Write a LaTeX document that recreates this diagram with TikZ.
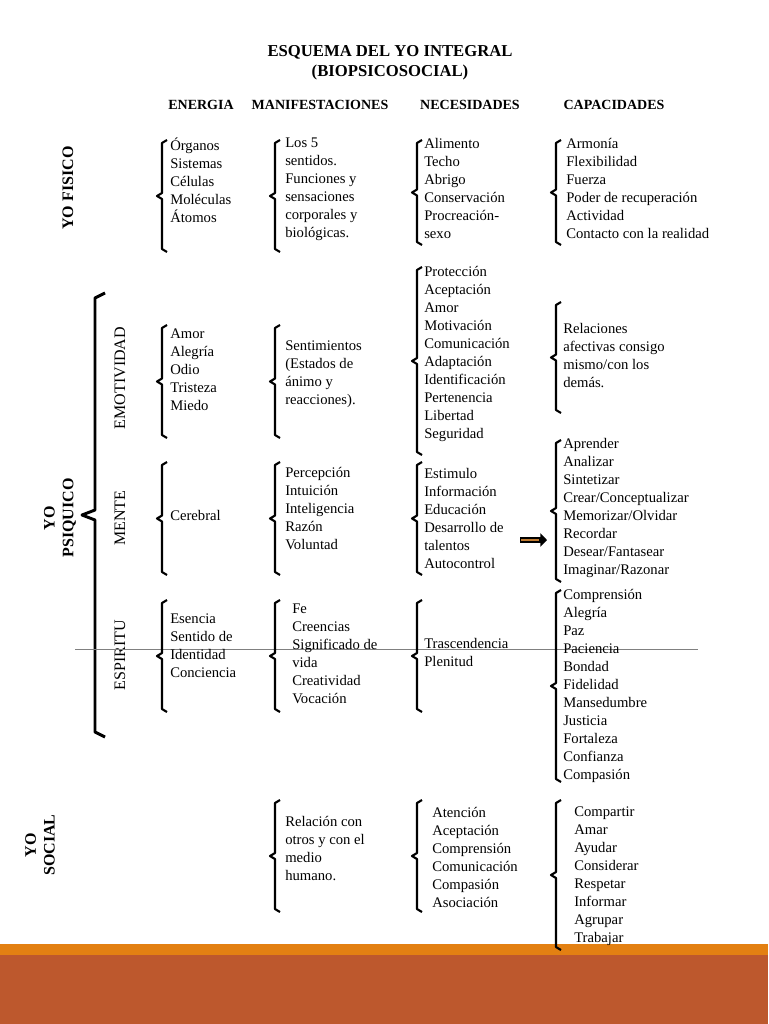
\documentclass[tikz,border=0pt]{standalone}
\usepackage{fontspec}
\setmainfont{Liberation Serif}
\usetikzlibrary{arrows.meta}
\definecolor{rust}{HTML}{BD582D}
\definecolor{orng}{HTML}{E38012}
\definecolor{brn}{HTML}{C07A30}
\tikzset{
  lst/.style={anchor=north west,inner sep=0pt,align=left,font=\fontsize{11}{13.5}\selectfont},
  hdr/.style={font=\bfseries\fontsize{10.5}{12}\selectfont,inner sep=0pt},
  side/.style={rotate=90,inner sep=0pt,font=\fontsize{12}{14}\selectfont},
  brkline/.style={line width=1.6pt,line join=round}
}
\newcommand\brk[3]{\draw[brkline] (#1+5,#2) -- (#1,#2+3) -- (#1,{(#2+#3)/2-3}) -- (#1-5,{(#2+#3)/2}) -- (#1,{(#2+#3)/2+3}) -- (#1,#3-3) -- (#1+5,#3);}
\begin{document}
\begin{tikzpicture}[x=0.75pt,y=-0.75pt]
\useasboundingbox (0,0) rectangle (768,1024);
\fill[white] (0,0) rectangle (768,1024);
\fill[orng] (0,944) rectangle (768,955);
\fill[rust] (0,955) rectangle (768,1024);
% title
\node[font=\bfseries\fontsize{12.5}{15}\selectfont,align=center] (title) at (390,63) {ESQUEMA DEL YO INTEGRAL\\(BIOPSICOSOCIAL)};
\node[hdr] (h1) at (201,105) {ENERGIA};
\node[hdr] (h2) at (320,105) {MANIFESTACIONES};
\node[hdr] (h3) at (470,105) {NECESIDADES};
\node[hdr] (h4) at (614,105) {CAPACIDADES};
% side labels
\node[side,font=\bfseries\fontsize{12}{14}\selectfont] (yf) at (68,188) {YO FISICO};
\node[side] (emo) at (120,378) {EMOTIVIDAD};
\node[side] (men) at (120,518) {MENTE};
\node[side] (esp) at (120,655) {ESPIRITU};
\node[side,font=\bfseries\fontsize{12}{14}\selectfont,align=center] (yp) at (60,518) {YO\\PSIQUICO};
\node[side,font=\bfseries\fontsize{12}{14}\selectfont,align=center] (ys) at (40,845) {YO\\SOCIAL};
% big bracket
\draw[brkline,line width=2.2pt] (105,293) -- (95,298) -- (95,510) -- (82,515) -- (95,520) -- (95,732) -- (105,737);
% gray line
\draw[gray,line width=0.6pt] (75,649) -- (698,649);
% brackets
\brk{162}{140}{252}\brk{275}{140}{252}\brk{417}{140}{245}\brk{556}{140}{245}
\brk{162}{325}{438}\brk{275}{325}{438}\brk{417}{267}{455}\brk{556}{302}{413}
\brk{162}{462}{575}\brk{275}{462}{575}\brk{417}{462}{575}\brk{556}{440}{582}
\brk{162}{600}{712}\brk{275}{600}{712}\brk{417}{600}{712}\brk{556}{590}{782}
\brk{275}{800}{912}\brk{417}{800}{912}\brk{556}{800}{950}
% yo fisico
\node[lst] (f1) at (170,138) {Órganos\\Sistemas\\Células\\Moléculas\\Átomos};
\node[lst] (f2) at (285,138) {Los 5\\sentidos.\\Funciones y\\sensaciones\\corporales y\\biológicas.};
\node[lst] (f3) at (424,138) {Alimento\\Techo\\Abrigo\\Conservación\\Procreación-\\sexo};
\node[lst] (f4) at (566,138) {Armonía\\Flexibilidad\\Fuerza\\Poder de recuperación\\Actividad\\Contacto con la realidad};
% emotividad
\node[lst] (e1) at (170,329) {Amor\\Alegría\\Odio\\Tristeza\\Miedo};
\node[lst] (e2) at (285,341) {Sentimientos\\(Estados de\\ánimo y\\reacciones).};
\node[lst] (e3) at (424,266) {Protección\\Aceptación\\Amor\\Motivación\\Comunicación\\Adaptación\\Identificación\\Pertenencia\\Libertad\\Seguridad};
\node[lst] (e4) at (563,323) {Relaciones\\afectivas consigo\\mismo/con los\\demás.};
% mente
\node[lst] (m1) at (170,510) {Cerebral};
\node[lst] (m2) at (285,467) {Percepción\\Intuición\\Inteligencia\\Razón\\Voluntad};
\node[lst] (m3) at (424,468) {Estimulo\\Información\\Educación\\Desarrollo de\\talentos\\Autocontrol};
\node[lst] (m4) at (563,438) {Aprender\\Analizar\\Sintetizar\\Crear/Conceptualizar\\Memorizar/Olvidar\\Recordar\\Desear/Fantasear\\Imaginar/Razonar};
% espiritu
\node[lst] (s1) at (170,614) {Esencia\\Sentido de\\Identidad\\Conciencia};
\node[lst] (s2) at (292,604) {Fe\\Creencias\\Significado de\\vida\\Creatividad\\Vocación};
\node[lst] (s3) at (424,638) {Trascendencia\\Plenitud};
\node[lst] (s4) at (563,589) {Comprensión\\Alegría\\Paz\\Paciencia\\Bondad\\Fidelidad\\Mansedumbre\\Justicia\\Fortaleza\\Confianza\\Compasión};
% social
\node[lst] (o2) at (285,816) {Relación con\\otros y con el\\medio\\humano.};
\node[lst] (o3) at (432,807) {Atención\\Aceptación\\Comprensión\\Comunicación\\Compasión\\Asociación};
\node[lst] (o4) at (574,807) {Compartir\\Amar\\Ayudar\\Considerar\\Respetar\\Informar\\Agrupar\\Trabajar};
% arrow
\coordinate (a1) at (520,540); \coordinate (a2) at (547,540);
\draw[line width=4.5pt,-{Triangle[length=5pt,width=10pt]}] (a1) -- (a2);
\draw[brn,line width=2pt] (521,540) -- (539,540);
\end{tikzpicture}
\end{document}
